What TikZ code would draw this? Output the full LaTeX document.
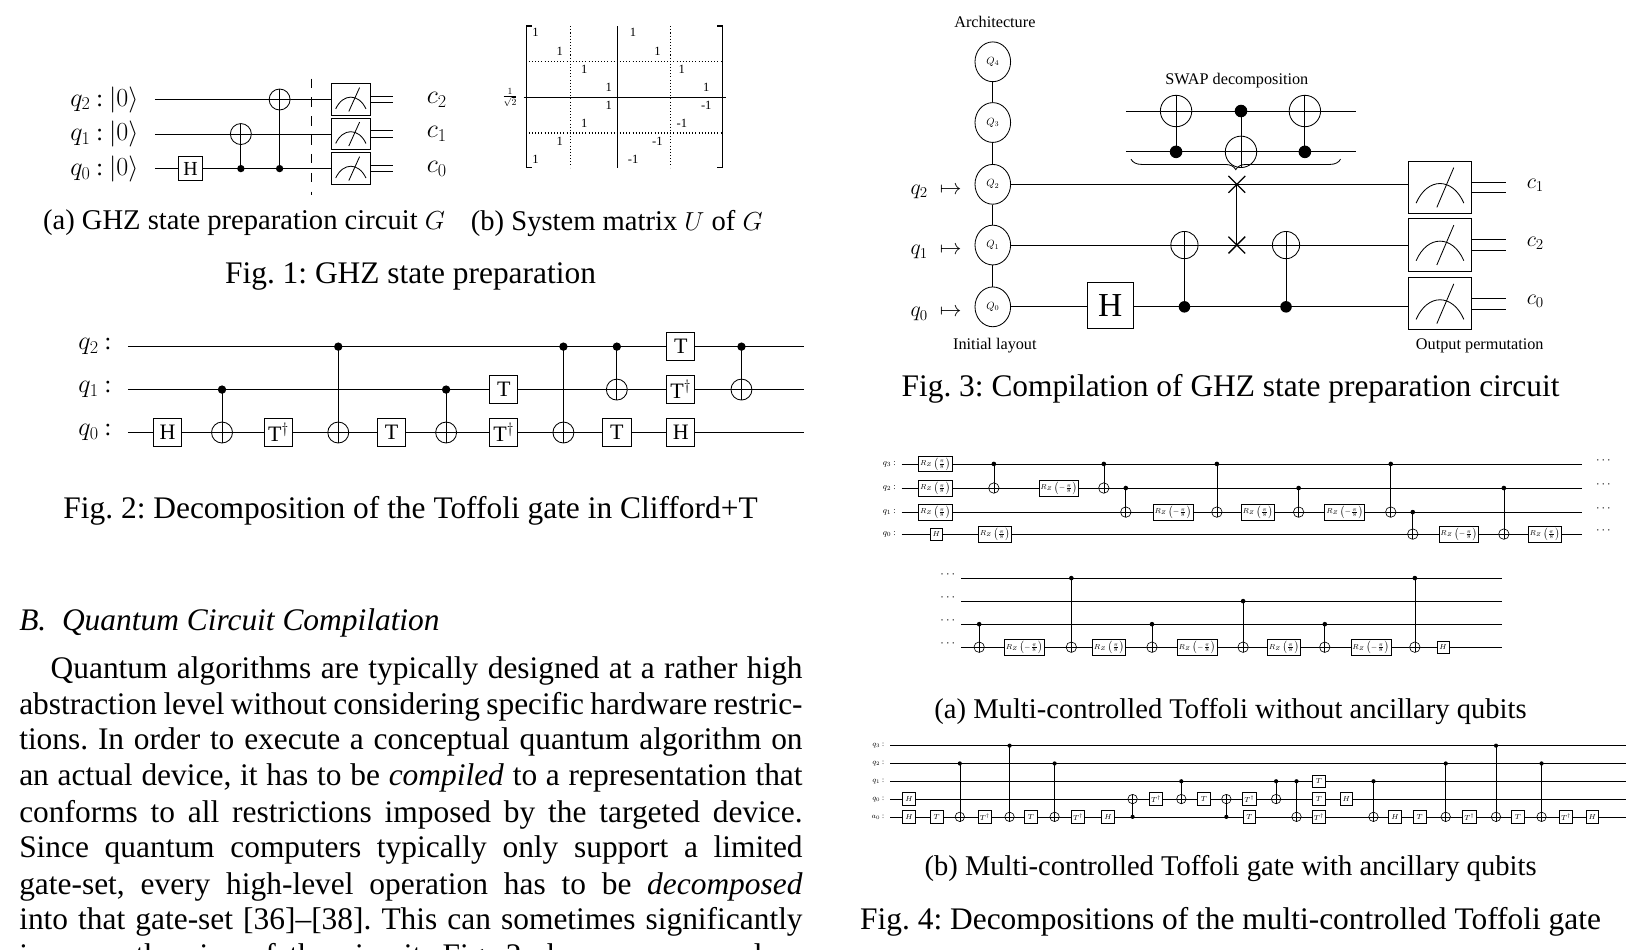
\documentclass[tikz,border=0pt]{standalone}
\usepackage{fontspec}
\setmainfont{Liberation Serif}
\usetikzlibrary{decorations.pathreplacing,shapes.geometric}
\frenchspacing
\newcommand\gb[5]{\node[gatebox,font=#4,minimum width=#5,minimum height=#5] at (#1,#2) {#3};}
\newcommand\cx[5]{\draw (#1,#2) -- (#1,#3); \fill (#1,#2) circle (#5);
 \draw[fill=white] (#1,#3) circle (#4); \draw ({#1-#4},#3) -- ({#1+#4},#3) ({#1},{#3-#4}) -- ({#1},{#3+#4});}
\newcommand\meas[4]{\draw[fill=white] ({#1-#3/2},{#2-#4/2}) rectangle ({#1+#3/2},{#2+#4/2});
 \draw ({#1-0.38*#3},{#2+0.3*#4}) .. controls ({#1-0.2*#3},{#2-0.2*#4}) and ({#1+0.2*#3},{#2-0.2*#4}) .. ({#1+0.38*#3},{#2+0.3*#4});
 \draw ({#1-0.05*#3},{#2+0.38*#4}) -- ({#1+0.22*#3},{#2-0.38*#4});
 \draw ({#1+#3/2},{#2-0.1*#4}) -- ++(#3*0.55,0) ({#1+#3/2},{#2+0.1*#4}) -- ++(#3*0.55,0);}
\newcommand\Rp{$R_Z\left(\frac{\pi}{8}\right)$}
\newcommand\Rm{$R_Z\left(-\frac{\pi}{8}\right)$}
\begin{document}
\begin{tikzpicture}[x=1pt,y=-1pt,line width=0.8pt,
 gatebox/.style={draw,fill=white,inner sep=1.5pt},
 captxt/.style={font=\fontsize{30}{34}\selectfont},
 subcap/.style={font=\fontsize{27.3}{32}\selectfont},
 body/.style={font=\fontsize{30}{34}\selectfont,anchor=base west,inner sep=0},
 small/.style={font=\fontsize{15.5}{18}\selectfont}]
\useasboundingbox (0,0) rectangle (1566,907);
%% Fig 1a
\foreach \i/\y in {2/95,1/128,0/161}{
 \node[anchor=east,font=\fontsize{23}{24}\selectfont] at (136,\y) {$q_{\i}$ : $|0\rangle$};
 \draw (148,\y) -- (320,\y);
 \node[font=\fontsize{23}{24}\selectfont] at (417,\y) {$c_{\i}$};}
\gb{182}{161}{H}{\fontsize{19}{20}\selectfont}{23pt}
\cx{230}{161}{128}{10}{3.5}
\cx{267}{161}{95}{10}{3.5}
\draw[dashed,dash pattern=on 9pt off 9pt] (297,75) -- (297,186);
\foreach \y in {95,128,161} {\meas{335}{\y}{38}{30}}
\node[subcap] at (233,213) {(a) GHZ state preparation circuit $G$};
\node[subcap] at (589,213) {(b) System matrix $U$ of $G$};
\node[captxt] at (392,264) {Fig. 1: GHZ state preparation};
%% Fig 1b matrix
\draw[line width=1.3pt] (508,25) -- (503,25) -- (503,160) -- (508,160);
\draw[line width=1.3pt] (685,25) -- (690,25) -- (690,160) -- (685,160);
\draw (500,93) -- (693,93);
\draw (590,25) -- (590,160);
\draw[dotted,line width=1pt] (505,59) -- (690,59) (505,127) -- (690,127) (545,25) -- (545,160) (640,25) -- (640,160);
\node[font=\fontsize{13}{14}\selectfont] at (487,93) {$\frac{1}{\sqrt{2}}$};
\foreach \r/\c/\v in {1/1/1,1/5/1,2/2/1,2/6/1,3/3/1,3/7/1,4/4/1,4/8/1,5/4/1,5/8/-1,6/3/1,6/7/-1,7/2/1,7/6/-1,8/1/1,8/5/-1}
 \node[font=\fontsize{12}{13}\selectfont] at ({488+\c*23.3},{14+\r*17.3}) {\v};
%% Fig 2
\foreach \i/\y in {2/331,1/372,0/413}{
 \node[anchor=east,font=\fontsize{23}{24}\selectfont] at (110,\y) {$q_{\i}$ :};
 \draw (122,\y) -- (768,\y);}
\def\fa{\fontsize{21}{22}\selectfont}
\cx{212}{372}{413}{10}{4}
\cx{323}{331}{413}{10}{4}
\cx{426}{372}{413}{10}{4}
\cx{538}{331}{413}{10}{4}
\cx{589}{331}{372}{10}{4}
\cx{708}{331}{372}{10}{4}
\gb{160}{413}{H}{\fa}{27pt}
\gb{266}{413}{T$^\dagger$}{\fa}{27pt}
\gb{374}{413}{T}{\fa}{27pt}
\gb{481}{372}{T}{\fa}{27pt}
\gb{481}{413}{T$^\dagger$}{\fa}{27pt}
\gb{589}{413}{T}{\fa}{27pt}
\gb{650}{331}{T}{\fa}{27pt}
\gb{650}{372}{T$^\dagger$}{\fa}{27pt}
\gb{650}{413}{H}{\fa}{27pt}
\node[captxt] at (392,488) {Fig. 2: Decomposition of the Toffoli gate in Clifford+T};
%% Text
\node[body,font=\fontsize{30}{34}\selectfont\itshape] at (18,602) {B.\ \ Quantum Circuit Compilation};
\node[body] at (48,648) {\makebox[718pt][s]{Quantum algorithms are typically designed at a rather high}};
\node[body] at (18,682) {\makebox[748pt][s]{abstraction level without considering specific hardware restric-}};
\node[body] at (18,716) {\makebox[748pt][s]{tions. In order to execute a conceptual quantum algorithm on}};
\node[body] at (18,750) {\makebox[748pt][s]{an actual device, it has to be \emph{compiled} to a representation that}};
\node[body] at (18,785) {\makebox[748pt][s]{conforms to all restrictions imposed by the targeted device.}};
\node[body] at (18,819) {\makebox[748pt][s]{Since quantum computers typically only support a limited}};
\node[body] at (18,854) {\makebox[748pt][s]{gate-set, every high-level operation has to be \emph{decomposed}}};
\node[body] at (18,888) {\makebox[748pt][s]{into that gate-set [36]--[38]. This can sometimes significantly}};
\node[body] at (18,922) {\makebox[748pt][s]{increase the size of the circuit. Fig. 2 shows an exemplary}};
%% Fig 3
\node[small] (arch) at (950,21) {Architecture};
\foreach \n/\y in {4/59,3/117,2/176,1/234,0/293}
 \node[draw,ellipse,minimum width=34pt,minimum height=38pt,inner sep=0,font=\fontsize{10}{11}\selectfont] (Q\n) at (948,\y) {$Q_{\n}$};
\draw (Q4) -- (Q3) -- (Q2) -- (Q1) -- (Q0);
\foreach \n/\y in {2/176,1/234,0/293}{
 \draw (Q\n) -- (1345,\y);
 \node[anchor=east,font=\fontsize{22}{24}\selectfont] at (922,{\y+7}) {$q_{\n}\;\mapsto$};}
\gb{1060}{292}{H}{\fontsize{32}{34}\selectfont}{44pt}
\draw (1131,293) -- (1131,234); \fill (1131,293) circle (5.5);
\draw[fill=white] (1131,234) circle (13); \draw (1118,234) -- (1144,234) (1131,221) -- (1131,247);
\draw (1228,293) -- (1228,234); \fill (1228,293) circle (5.5);
\draw[fill=white] (1228,234) circle (13); \draw (1215,234) -- (1241,234) (1228,221) -- (1228,247);
\draw (1181,176) -- (1181,234);
\draw[line width=1.2pt] (1173,168) -- (1189,184) (1173,184) -- (1189,168) (1173,226) -- (1189,242) (1173,242) -- (1189,226);
\node[small] at (1181,77) {SWAP decomposition};
\draw (1075,106) -- (1295,106) (1075,145) -- (1295,145);
\cx{1123}{145}{106}{15}{6}
\cx{1185}{106}{145}{15}{6}
\cx{1246}{145}{106}{15}{6}
\draw[decorate,decoration={brace,mirror,amplitude=10pt}] (1080,152) -- (1280,152);
\foreach \y/\c in {179/1,234/2,290/0}{
 \meas{1375}{\y}{60}{50}
 \node[font=\fontsize{20}{22}\selectfont] at (1466,{\y-2}) {$c_{\c}$};}
\node[small] at (950,330) {Initial layout};
\node[small] at (1413,330) {Output permutation};
\node[captxt] at (1175,371) {Fig. 3: Compilation of GHZ state preparation circuit};
%% Fig 4a
\def\fb{\fontsize{7.5}{8}\selectfont}
\foreach \i/\y in {3/443,2/466,1/489,0/510}{
 \node[anchor=east,font=\fontsize{8}{9}\selectfont] at (859,\y) {$q_{\i}$ :};
 \draw[line width=0.6pt] (861,\y) -- (1511,\y);
 \node[font=\fontsize{12}{12}\selectfont] at (1531,{\y-3}) {$\cdots$};}
\begin{scope}[line width=0.6pt]
\cx{949}{443}{466}{5}{2.2}
\cx{1054}{443}{466}{5}{2.2}
\cx{1075}{466}{489}{5}{2.2}
\cx{1162}{443}{489}{5}{2.2}
\cx{1240}{466}{489}{5}{2.2}
\cx{1328}{443}{489}{5}{2.2}
\cx{1349}{489}{510}{5}{2.2}
\cx{1436}{466}{510}{5}{2.2}
\foreach \y in {443,466,489} {\gb{893}{\y}{\Rp}{\fb}{15pt}}
\gb{894}{510}{$H$}{\fb}{12pt}
\gb{950}{510}{\Rp}{\fb}{15pt}
\gb{1011}{466}{\Rm}{\fb}{15pt}
\gb{1120}{489}{\Rm}{\fb}{15pt}
\gb{1201}{489}{\Rp}{\fb}{15pt}
\gb{1284}{489}{\Rm}{\fb}{15pt}
\gb{1393}{510}{\Rm}{\fb}{15pt}
\gb{1475}{510}{\Rp}{\fb}{15pt}
\end{scope}
\foreach \y in {552,574,596,618}{
 \draw[line width=0.6pt] (918,\y) -- (1434,\y);
 \node[font=\fontsize{12}{12}\selectfont] at (905,{\y-3}) {$\cdots$};}
\begin{scope}[line width=0.6pt]
\cx{935}{596}{618}{5}{2.2}
\cx{1023}{552}{618}{5}{2.2}
\cx{1100}{596}{618}{5}{2.2}
\cx{1187}{574}{618}{5}{2.2}
\cx{1265}{596}{618}{5}{2.2}
\cx{1351}{552}{618}{5}{2.2}
\gb{978}{618}{\Rm}{\fb}{15pt}
\gb{1059}{618}{\Rp}{\fb}{15pt}
\gb{1143}{618}{\Rm}{\fb}{15pt}
\gb{1226}{618}{\Rp}{\fb}{15pt}
\gb{1309}{618}{\Rm}{\fb}{15pt}
\gb{1378}{618}{$H$}{\fb}{12pt}
\end{scope}
\node[subcap] at (1175,679) {(a) Multi-controlled Toffoli without ancillary qubits};
%% Fig 4b
\foreach \l/\y in {q_3/712,q_2/729,q_1/746,q_0/763,a_0/780}{
 \node[anchor=east,font=\fontsize{7}{8}\selectfont] at (848,\y) {$\l$ :};
 \draw[line width=0.6pt] (850,\y) -- (1553,\y);}
\begin{scope}[line width=0.6pt]
\cx{916.5}{729}{780}{4.5}{2}
\cx{964}{712}{780}{4.5}{2}
\cx{1007}{729}{780}{4.5}{2}
\cx{1081.5}{780}{763}{4.5}{2}
\cx{1128}{746}{763}{4.5}{2}
\cx{1171}{780}{763}{4.5}{2}
\cx{1218.5}{746}{763}{4.5}{2}
\cx{1238}{746}{780}{4.5}{2}
\cx{1311.5}{746}{780}{4.5}{2}
\cx{1380.5}{729}{780}{4.5}{2}
\cx{1428.5}{712}{780}{4.5}{2}
\cx{1472}{729}{780}{4.5}{2}
\foreach \x/\y/\g in {868/763/H,868/780/H,894.5/780/T,940.5/780/T^\dagger,984.5/780/T,1029.5/780/T^\dagger,1058/780/H,
 1104/763/T^\dagger,1149.5/763/T,1193/763/T^\dagger,1193/780/T,1259.5/746/T,1259.5/763/T,1259.5/780/T^\dagger,1285.5/763/H,
 1332/780/H,1355.5/780/T,1403/780/T^\dagger,1449.5/780/T,1495.5/780/T^\dagger,1520.5/780/H}
 {\gb{\x}{\y}{$\g$}{\fb}{12pt}}
\end{scope}
\node[subcap] at (1175,829) {(b) Multi-controlled Toffoli gate with ancillary qubits};
\node[captxt] at (1175,880) {Fig. 4: Decompositions of the multi-controlled Toffoli gate};
\end{tikzpicture}
\end{document}
